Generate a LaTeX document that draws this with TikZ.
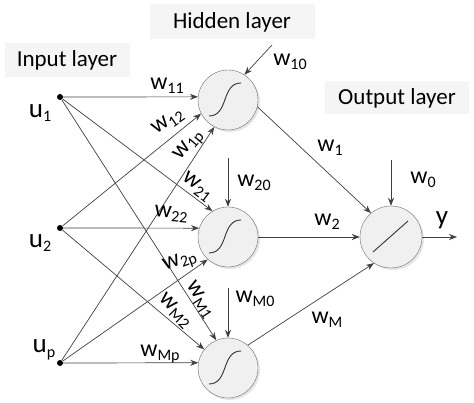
\documentclass[tikz,border=0pt]{standalone}
\usepackage{fontspec}
\setmainfont{Carlito}
\usetikzlibrary{arrows.meta,shadows}

\newcommand{\lbl}[2]{#1\raisebox{-0.35ex}{\fontsize{16}{16}\selectfont #2}}

\begin{document}
\begin{tikzpicture}[x=1pt,y=-1pt]

\tikzstyle{neuron}=[circle, draw=gray!85!black, fill=gray!12, minimum size=60pt, inner sep=0pt, drop shadow={opacity=0.2, shadow xshift=2pt, shadow yshift=-2pt}]
\tikzstyle{inp}=[circle, fill=black, minimum size=6pt, inner sep=0pt]
\tikzstyle{layer}=[fill=gray!8, inner sep=0pt, font=\fontsize{23}{26}\selectfont]
\tikzstyle{wt}=[font=\fontsize{24}{26}\selectfont, inner sep=0pt]
\tikzstyle{ulbl}=[font=\fontsize{27}{30}\selectfont, inner sep=0pt]
\tikzstyle{arrow}=[-{Stealth[length=8pt,width=6pt]}, draw=black!75, line width=0.7pt]

\useasboundingbox (0,0) rectangle (474,403);

\node (inlayer)[layer, minimum width=125pt, minimum height=34pt] at (67,60) {Input layer};
\node (hidlayer)[layer, minimum width=165pt, minimum height=35pt] at (232,22) {Hidden layer};
\node (outlayer)[layer, minimum width=144pt, minimum height=33pt] at (397,98) {Output layer};

\node (u1)[inp] at (60,97) {};
\node (u2)[inp] at (60,228) {};
\node (up)[inp] at (60,363) {};
\node (lu1)[ulbl] at (40,113) {\lbl{u}{1}};
\node (lu2)[ulbl] at (40,243) {\lbl{u}{2}};
\node (lup)[ulbl] at (44,350) {\lbl{u}{p}};

\node (h1)[neuron] at (228,100) {};
\node (h2)[neuron] at (228,237) {};
\node (h3)[neuron] at (228,368) {};
\node (out)[neuron, minimum size=62pt] at (391,237) {};

% activation curves
\foreach \h in {h1,h2,h3}
  \draw[line width=0.9pt, black!80] (\h.center) ++(-19,16) .. controls +(20,0) and +(-20,0) .. ++(32,-33);
\draw[line width=0.9pt, black!80] (out.center) ++(-18,15) -- ++(35,-31);

\draw[arrow] (u1) -- (h1.174);
\draw[arrow] (u2) -- (h1.207);
\draw[arrow] (up) -- (h1.243);
\draw[arrow] (u1) -- (h2.121);
\draw[arrow] (u2) -- (h2.163);
\draw[arrow] (up) -- (h2.228);
\draw[arrow] (u1) -- (h3.113);
\draw[arrow] (u2) -- (h3.142);
\draw[arrow] (up) -- (h3.170);

\draw[arrow] (h1.-13) -- (out.130);
\draw[arrow] (h2) -- (out);
\draw[arrow] (h3.49) -- (out.237);

\coordinate (b10) at (272,45);
\coordinate (b20) at (228,158);
\coordinate (bM0) at (228,288);
\coordinate (b0) at (391,160);
\coordinate (yend) at (457,237);
\draw[arrow] (b10) -- (h1.57);
\draw[arrow] (b20) -- (h2.north);
\draw[arrow] (bM0) -- (h3.north);
\draw[arrow] (b0) -- (out.north);
\draw[arrow] (out) -- (yend);

\node (w11)[wt] at (167,86) {\lbl{w}{11}};
\node (w12)[wt, rotate=35] at (168,122) {\lbl{w}{12}};
\node (w1p)[wt, rotate=50] at (189,146) {\lbl{w}{1p}};
\node (w21)[wt, rotate=-37] at (197,187) {\lbl{w}{21}};
\node (w22)[wt, rotate=-5] at (171,214) {\lbl{w}{22}};
\node (w2p)[wt, rotate=20] at (180,262) {\lbl{w}{2p}};
\node (wM1)[wt, rotate=-57] at (200,300) {\lbl{w}{M1}};
\node (wM2)[wt, rotate=-45] at (175,311) {\lbl{w}{M2}};
\node (wMp)[wt] at (160,354) {\lbl{w}{Mp}};
\node (w10)[wt] at (290,62) {\lbl{w}{10}};
\node (w20)[wt] at (254,183) {\lbl{w}{20}};
\node (wM0)[wt] at (255,299) {\lbl{w}{M0}};
\node (w0)[wt] at (423,180) {\lbl{w}{0}};
\node (w1)[wt] at (330,148) {\lbl{w}{1}};
\node (w2)[wt] at (327,222) {\lbl{w}{2}};
\node (wM)[wt] at (327,320) {\lbl{w}{M}};
\node (ylbl)[ulbl] at (442,220) {y};

\end{tikzpicture}
\end{document}
